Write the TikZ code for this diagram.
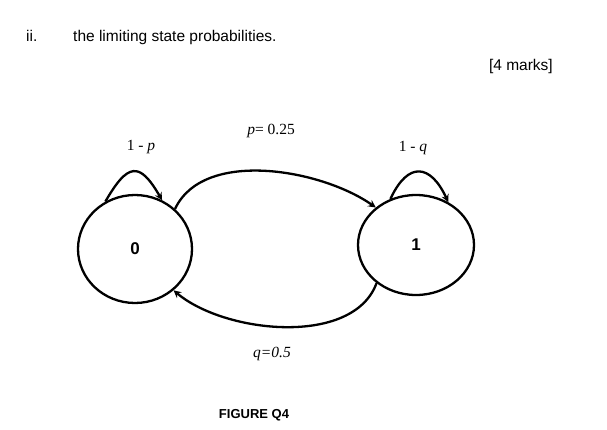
\documentclass[tikz,border=0pt]{standalone}
\usepackage{fontspec}
\setmainfont{Liberation Serif}
\setsansfont{Liberation Sans}
\usepackage{tikz}
\usetikzlibrary{automata, positioning, arrows, shapes.geometric}
\tikzset{
	>=stealth, % makes the arrow heads bold
	every state/.style={ellipse, draw, line width=2.3pt, inner sep=0pt, font=\sffamily\bfseries\fontsize{17}{20}\selectfont}, %sets the properties for each 'state' node
	trans/.style={->, line width=2.3pt}, % the transitions between the states
	prob/.style={inner sep=0pt, font=\fontsize{15.5}{18}\selectfont}, % probabilities on the transitions
	heading/.style={inner sep=0pt, font=\sffamily\fontsize{15.5}{18}\selectfont}, % text of the question
}

\begin{document}
\begin{tikzpicture}[x=1pt, y=1pt]
	\useasboundingbox (0,0) rectangle (607,429);
	\node (item) at (26,387) [heading, anchor=base west] {ii.};
	\node (task) at (73,387) [heading, anchor=base west] {the limiting state probabilities.};
	\node (marks) at (553,358) [heading, anchor=base east] {[4 marks]};

	\node (s0) at (135,180) [state, minimum width=114pt, minimum height=108pt] {0};
	\node (s1) at (416,184) [state, minimum width=116pt, minimum height=100pt] {1};

	\draw[trans] (s0.122) .. controls +(60:45) and +(120:45) .. (s0.61);
	\draw[trans] (s1.119) .. controls +(65:42) and +(115:42) .. (s1.53);
	\draw[trans] (s0.45) to[out=65, in=145, looseness=0.85] (s1.137);
	\draw[trans] (s1.224) to[out=250, in=-40, looseness=0.85] (s0.313);

	\node (l00) at (141,278) [prob, anchor=base] {1 - \textit{p}};
	\node (l11) at (413,277) [prob, anchor=base] {1 - \textit{q}};
	\node (l01) at (271,294) [prob, anchor=base] {\textit{p}= 0.25};
	\node (l10) at (272,72) [prob, anchor=base] {\textit{q=0.5}};

	\node (caption) at (254,11) [inner sep=0pt, anchor=base, font=\sffamily\bfseries\fontsize{13}{16}\selectfont] {FIGURE Q4};
\end{tikzpicture}
\end{document}
